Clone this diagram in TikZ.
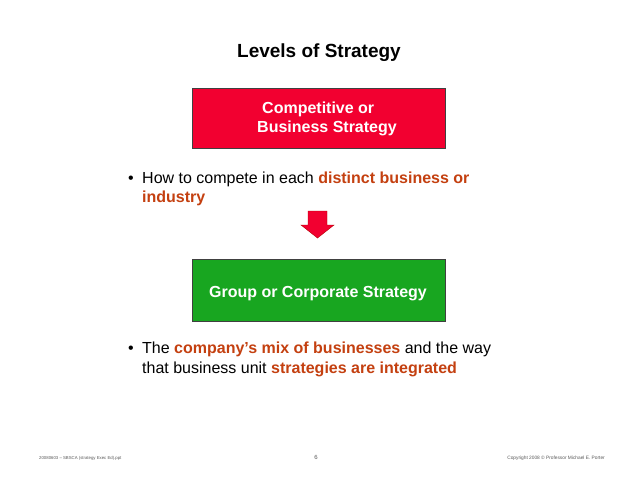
\documentclass[tikz,border=0pt]{standalone}
\usepackage{fontspec}
\setmainfont{Liberation Sans}
\definecolor{boxred}{RGB}{242,0,48}
\definecolor{boxgreen}{RGB}{24,166,32}
\definecolor{accent}{RGB}{196,64,16}
\definecolor{foot}{RGB}{90,90,90}
\begin{document}
\begin{tikzpicture}[x=1pt,y=-1pt,
  stratbox/.style={draw=black!75,line width=0.6pt,rectangle,minimum width=253pt,inner sep=0pt},
  boxtext/.style={inner sep=0pt,text=white,font=\fontsize{16}{19}\selectfont\bfseries},
  bodytext/.style={inner sep=0pt,font=\fontsize{16}{19}\selectfont,anchor=base west},
  foottext/.style={inner sep=0pt,text=foot,font=\fontsize{4.3}{5}\selectfont}]
\useasboundingbox[fill=white] (0,0) rectangle (638,493);
% title
\node[inner sep=0pt,anchor=base,font=\fontsize{19}{23}\selectfont\bfseries] (title) at (319,57) {Levels of Strategy};
% red box
\node[stratbox,fill=boxred,minimum height=60pt] (comp) at (318.5,118) {};
\node[boxtext,anchor=base west] (compA) at (262,113) {Competitive or};
\node[boxtext,anchor=base west] (compB) at (257,132) {Business Strategy};
% bullet 1
\node[bodytext] (bul1) at (128,183) {•};
\node[bodytext] (b1a) at (142,183) {How to compete in each \textcolor{accent}{\bfseries distinct business or}};
\node[bodytext] (b1b) at (142,202.5) {\textcolor{accent}{\bfseries industry}};
% block arrow
\draw[fill=boxred,draw=red!70!black,line width=0.4pt]
  (308,211) -- (327,211) -- (327,225) -- (334,225) -- (317.5,238) -- (301,225) -- (308,225) -- cycle;
% green box
\node[stratbox,fill=boxgreen,minimum height=62pt] (corp) at (318.5,290) {};
\node[boxtext,anchor=base] (corpT) at (318,297) {Group or Corporate Strategy};
% bullet 2
\node[bodytext] (bul2) at (128,353) {•};
\node[bodytext] (b2a) at (142,353) {The \textcolor{accent}{\bfseries company’s mix of businesses} and the way};
\node[bodytext] (b2b) at (142,373) {that business unit \textcolor{accent}{\bfseries strategies are integrated}};
% footer
\node[foottext,anchor=base west] (fl) at (39,459) {20080603 – SBSCA (strategy Exec Ed).ppt};
\node[foottext,anchor=base,font=\fontsize{6}{7}\selectfont] (fc) at (316,459.5) {6};
\node[foottext,anchor=base east,font=\fontsize{4.8}{5.5}\selectfont] (fr) at (605,459) {Copyright 2008 © Professor Michael E. Porter};
\end{tikzpicture}
\end{document}
